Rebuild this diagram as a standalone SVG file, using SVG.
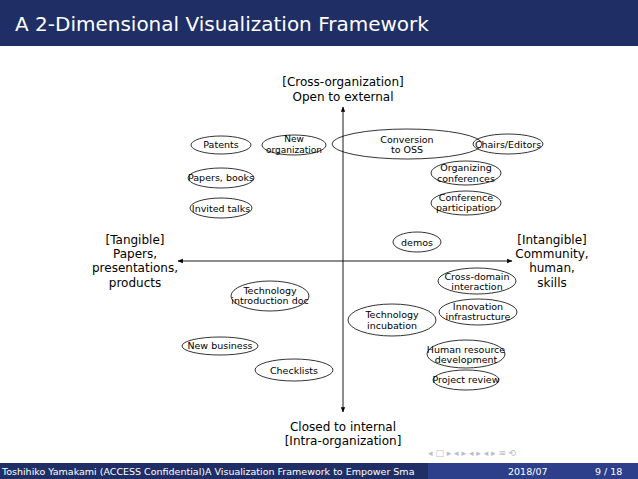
<svg xmlns="http://www.w3.org/2000/svg" width="638" height="479" viewBox="0 0 638 479">
<defs><marker id="ah" viewBox="0 0 10 10" refX="9" refY="5" markerWidth="6" markerHeight="6" orient="auto-start-reverse"><path d="M0,1 L10,5 L0,9 z" fill="#000"/></marker></defs>
<style>
text{font-family:"DejaVu Sans","Liberation Sans",sans-serif;fill:#000}
.n ellipse{fill:none;stroke:#000;stroke-width:0.8}
.n text{font-size:9.5px;text-anchor:middle}
.ax{font-size:12px;text-anchor:middle}
</style>
<rect width="638" height="479" fill="#fff"/>
<rect width="638" height="46" fill="#1f2f66"/>
<text x="15" y="31" style="font-size:20px;fill:#fff">A 2-Dimensional Visualization Framework</text>
<g id="connectors" stroke="#000" stroke-width="0.9">
<line x1="343" y1="412" x2="343" y2="107" marker-start="url(#ah)" marker-end="url(#ah)"/>
<line x1="178" y1="261" x2="512" y2="261" marker-start="url(#ah)" marker-end="url(#ah)"/>
</g>
<g class="ax">
<text x="343" y="86">[Cross-organization]</text><text x="343" y="101">Open to external</text>
<text x="343" y="431">Closed to internal</text><text x="343" y="445">[Intra-organization]</text>
<text x="135" y="244">[Tangible]</text><text x="135" y="258">Papers,</text><text x="135" y="272">presentations,</text><text x="135" y="287">products</text>
<text x="552" y="244">[Intangible]</text><text x="552" y="258">Community,</text><text x="552" y="272">human,</text><text x="552" y="287">skills</text>
</g>
<g class="n">
<g id="patents"><ellipse cx="221" cy="145" rx="30" ry="9"/><text x="221" y="148">Patents</text></g>
<g id="neworg"><ellipse cx="294" cy="145" rx="32" ry="10"/><text x="294" y="142" style="font-size:9px">New</text><text x="294" y="153" style="font-size:9px">organization</text></g>
<g id="oss"><ellipse cx="407" cy="144" rx="75" ry="15"/><text x="407" y="143">Conversion</text><text x="407" y="153">to OSS</text></g>
<g id="chairs"><ellipse cx="508" cy="144" rx="35" ry="10"/><text x="508" y="148">Chairs/Editors</text></g>
<g id="orgconf"><ellipse cx="466" cy="173" rx="35" ry="12"/><text x="466" y="171">Organizing</text><text x="466" y="182">conferences</text></g>
<g id="confpart"><ellipse cx="466" cy="203" rx="35" ry="12"/><text x="466" y="201">Conference</text><text x="466" y="211">participation</text></g>
<g id="papers"><ellipse cx="221" cy="178" rx="33" ry="10"/><text x="221" y="181">Papers, books</text></g>
<g id="talks"><ellipse cx="221" cy="208" rx="31" ry="10"/><text x="221" y="212">Invited talks</text></g>
<g id="demos"><ellipse cx="417" cy="242" rx="24" ry="10"/><text x="417" y="246">demos</text></g>
<g id="crossdomain"><ellipse cx="477" cy="281" rx="39" ry="13"/><text x="477" y="280">Cross-domain</text><text x="477" y="290">interaction</text></g>
<g id="innov"><ellipse cx="478" cy="312" rx="39" ry="13"/><text x="478" y="310">Innovation</text><text x="478" y="320">infrastructure</text></g>
<g id="incub"><ellipse cx="392" cy="320" rx="44" ry="16"/><text x="392" y="318">Technology</text><text x="392" y="329">incubation</text></g>
<g id="techdoc"><ellipse cx="270" cy="296" rx="39" ry="15"/><text x="270" y="294">Technology</text><text x="270" y="304">introduction doc</text></g>
<g id="newbiz"><ellipse cx="220" cy="346" rx="38" ry="9"/><text x="220" y="349">New business</text></g>
<g id="checklists"><ellipse cx="294" cy="370" rx="39" ry="11"/><text x="294" y="374">Checklists</text></g>
<g id="hrd"><ellipse cx="466" cy="354" rx="39" ry="14"/><text x="466" y="353">Human resource</text><text x="466" y="363">development</text></g>
<g id="review"><ellipse cx="466" cy="380" rx="33" ry="10"/><text x="466" y="383">Project review</text></g>
</g>
<text x="428" y="456" style="font-size:9px;fill:#b8bcd0">◂ □ ▸ ◂ ▸ ◂ ▸ ◂ ▸ ≡ ⟲</text>
<rect x="0" y="463" width="428" height="16" fill="#1f2f66"/>
<rect x="428" y="463" width="210" height="16" fill="#2d3f8a"/>
<text x="2" y="475" style="font-size:9.5px;fill:#fff">Toshihiko Yamakami  (ACCESS Confidential)A Visualization Framework to Empower  Sma</text>
<text x="508" y="475" style="font-size:9.5px;fill:#fff">2018/07</text>
<text x="595" y="475" style="font-size:9.5px;fill:#fff">9 / 18</text>
</svg>
